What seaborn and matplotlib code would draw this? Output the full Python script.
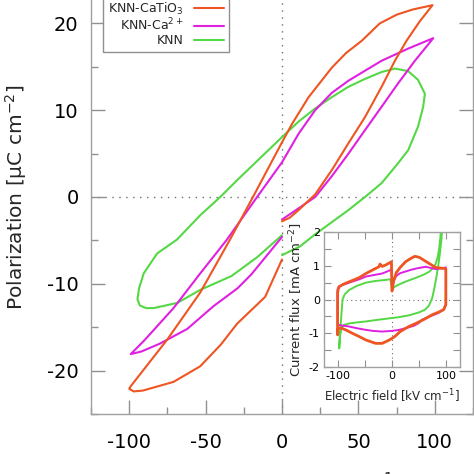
import matplotlib
matplotlib.use("Agg")
import numpy as np
import pandas as pd
import seaborn as sns
import matplotlib.pyplot as plt
from matplotlib.lines import Line2D
from matplotlib.ticker import MultipleLocator

# main P-E loops (kV/cm, uC/cm2)
samples = ["KNN-CaTiO$_3$", "KNN-Ca$^{2+}$", "KNN"]
colors = ["#ee5522", "#e020e0", "#55d845"]

cati_E = [0, 5, 10.9, 21.7, 32.6, 43.5, 54.3, 65.2, 73.9, 81.5, 90, 98.5,
          85.5, 75, 64, 52.2, 42, 32.6, 17.4, 6.5, 0, -19, -34, -53.5, -75, -99,
          -100, -97, -91, -71, -53.5, -40, -29.4, -11, 0]
cati_P = [-2.8, -2.4, -1.5, 0.3, 3.1, 6.2, 9.2, 12.7, 15.7, 18, 20.2, 22.1,
          21.6, 21, 20, 18, 16.6, 14.9, 11.5, 8.4, 6.3, 0, -4.9, -11, -16.4, -21.8,
          -22.1, -22.4, -22.3, -21.3, -19.5, -17, -14.6, -11.5, -7.2]

ca_E = [0, 10.9, 21.7, 32.6, 43.5, 54.3, 65.2, 76, 87, 99,
        82.6, 65.2, 43.5, 32.6, 21.7, 10.9, 0, -16.3, -36, -53.5, -71, -90, -99,
        -92, -80, -62, -45, -29, -20, 0]
ca_P = [-2.6, -1.3, 0, 2.4, 5.0, 7.7, 10.4, 13.1, 15.7, 18.3,
        17.1, 15.7, 13.4, 12.0, 10.0, 7.3, 4.0, 0, -4.9, -8.8, -12.8, -16.5, -18.1,
        -17.8, -16.9, -15.2, -12.6, -10.5, -8.9, -4.6]

knn_E = [0, 11.7, 21.7, 32.6, 43.5, 54.3, 65.2, 76, 82.6, 89, 92.4, 93.5,
         89, 82.6, 73.9, 65.2, 54.3, 43.5, 32.6, 21.7, 10.9, 0, -29, -40.4, -53.5, -68.7, -81.7, -90.5,
         -93.5, -94.6, -93, -89, -84, -68.5, -53.5, -33, -16, 0]
knn_P = [-6.7, -5.7, -4.3, -2.9, -1.5, 0, 1.6, 3.9, 5.4, 8.1, 10.4, 11.9,
         13.5, 14.5, 14.8, 14.4, 13.6, 12.7, 11.5, 10.2, 8.7, 6.9, 2.0, 0, -2.1, -4.9, -6.5, -8.8,
         -10.5, -11.8, -12.5, -12.8, -12.8, -12.2, -10.7, -9.1, -6.9, -4.4]

# inset: current flux (mA/cm2)
cati_Ei = [0, 3, 8, 15, 25, 35, 42, 50, 60, 70, 80, 90, 97, 99,
           99, 95, 85, 74, 60, 45, 31, 15, 5, -5, -18, -30, -48, -60, -73, -85, -93, -99, -100,
           -100, -99, -97, -90, -75, -60, -48, -35, -24, -22, -18, -12, -5, -1, 0]
cati_Ji = [0.25, 0.55, 0.8, 0.95, 1.12, 1.22, 1.28, 1.25, 1.15, 1.05, 0.95, 0.93, 0.92, 0.9,
           -0.15, -0.3, -0.38, -0.45, -0.58, -0.7, -0.8, -0.95, -1.1, -1.2, -1.3, -1.3, -1.2, -1.1, -1.0, -0.9, -0.85, -0.85, -1.05,
           0.2, 0.3, 0.38, 0.45, 0.55, 0.65, 0.77, 0.88, 0.97, 1.05, 0.98, 1.02, 1.08, 1.12, 0.28]

ca_Ei = [0, 3, 8, 15, 25, 35, 45, 55, 62, 70, 80, 90, 99,
         99, 95, 85, 70, 55, 49, 40, 25, 13, 0, -18, -35, -48, -65, -79, -92, -100,
         -100, -98, -91, -75, -60, -48, -35, -18, -3, -1, 0]
ca_Ji = [0.3, 0.55, 0.7, 0.78, 0.83, 0.88, 0.92, 0.95, 0.97, 0.94, 0.9, 0.92, 0.95,
         -0.15, -0.3, -0.4, -0.5, -0.6, -0.7, -0.78, -0.85, -0.9, -0.93, -0.95, -0.93, -0.9, -0.85, -0.8, -0.77, -0.75,
         0.3, 0.38, 0.43, 0.52, 0.6, 0.68, 0.72, 0.77, 0.87, 0.9, 0.3]

knn_Ei = [0, 5, 15, 25, 40, 50, 60, 68, 75, 80, 84, 87, 89, 90.5,
          93, 91, 88, 85, 82, 78, 74, 68, 61, 50, 31, 10, -6, -30, -48, -65, -79, -88, -93, -96, -97,
          -95, -93, -91, -87, -79, -65, -48, -30, -12, -3, 0]
knn_Ji = [0.3, 0.38, 0.46, 0.53, 0.62, 0.68, 0.75, 0.82, 0.92, 1.05, 1.25, 1.55, 1.85, 2.3,
          2.3, 1.8, 1.35, 1.0, 0.7, 0.35, 0.05, -0.18, -0.3, -0.38, -0.47, -0.53, -0.56, -0.61, -0.65, -0.68, -0.71, -0.75, -0.85, -1.1, -1.45,
          -0.9, -0.45, 0.0, 0.15, 0.28, 0.4, 0.5, 0.55, 0.58, 0.6, 0.3]


def frame(E, y, name):
    return pd.DataFrame({"E": E, "y": y, "sample": name})


main = pd.concat([frame(cati_E, cati_P, samples[0]),
                  frame(ca_E, ca_P, samples[1]),
                  frame(knn_E, knn_P, samples[2])], ignore_index=True)
inset = pd.concat([frame(cati_Ei, cati_Ji, samples[0]),
                   frame(ca_Ei, ca_Ji, samples[1]),
                   frame(knn_Ei, knn_Ji, samples[2])], ignore_index=True)

sns.set_style("ticks")
plt.rcParams["font.family"] = ["DejaVu Sans"]
plt.rcParams["axes.unicode_minus"] = False

fig = plt.figure(figsize=(4.74, 4.74), dpi=100)
ax = fig.add_axes([91/474, 60/474, 382/474, 434/474])

draw_order = [samples[2], samples[1], samples[0]]
sns.lineplot(data=main, x="E", y="y", hue="sample", hue_order=draw_order,
             palette=dict(zip(samples, colors)), sort=False, estimator=None,
             lw=1.5, legend=False, ax=ax)

ax.axhline(0, color="#707070", ls=(0, (1, 4)), lw=1, zorder=0)
ax.axvline(0, color="#707070", ls=(0, (1, 4)), lw=1, zorder=0)
ax.set_xlim(-125, 125)
ax.set_ylim(-25, 25)
ax.set_xticks([-100, -50, 0, 50, 100])
ax.set_yticks([-20, -10, 0, 10, 20])
ax.xaxis.set_minor_locator(MultipleLocator(25))
ax.yaxis.set_minor_locator(MultipleLocator(5))
ax.tick_params(which="both", direction="in", top=True, right=True,
               colors="#909090", labelcolor="black", labelsize=14)
ax.tick_params(which="major", length=10, width=1)
ax.tick_params(which="minor", length=5, width=1)
ax.tick_params(axis="x", pad=14)
ax.tick_params(axis="y", pad=9)
for s in ax.spines.values():
    s.set_color("#a0a0a0")
    s.set_linewidth(1)

ax.set_ylabel("Polarization [μC cm$^{-2}$]", fontsize=14.5)
ax.yaxis.set_label_coords(-0.162, 0.5)
ax.set_xlabel("Electric field [kV cm$^{-1}$]", fontsize=15)
ax.xaxis.set_label_coords(0.5, -0.132)

handles = [Line2D([], [], color=c, lw=1.5) for c in colors]
ax.legend(handles, samples, loc="lower left", bbox_to_anchor=(103/474, 1 - 52/474),
          bbox_transform=fig.transFigure, markerfirst=False, fontsize=9,
          fancybox=False, edgecolor="#909090", framealpha=1, handlelength=2.4,
          borderaxespad=0, labelspacing=0.02, borderpad=0.4)

# inset with current loops
axin = fig.add_axes([324/474, 107/474, 136/474, 135/474])
axin.set_facecolor("white")
sns.lineplot(data=inset, x="E", y="y", hue="sample", hue_order=draw_order,
             palette=dict(zip(samples, colors)), sort=False, estimator=None,
             lw=1.4, legend=False, ax=axin)
axin.lines[-1].set_linewidth(2)
axin.axhline(0, color="#707070", ls=(0, (1, 3)), lw=0.8, zorder=0)
axin.axvline(0, color="#707070", ls=(0, (1, 3)), lw=0.8, zorder=0)
axin.set_xlim(-125, 125)
axin.set_ylim(-2, 2)
axin.set_xticks([-100, -50, 0, 50, 100], labels=["-100", "", "0", "", "100"])
axin.set_yticks(np.arange(-2, 2.01, 0.5), labels=["-2", "", "-1", "", "0", "", "1", "", "2"])
axin.tick_params(which="both", direction="in", top=True, right=True, length=5,
                 colors="#909090", labelcolor="black", labelsize=8, pad=3)
for s in axin.spines.values():
    s.set_color("#a0a0a0")
    s.set_linewidth(1)
axin.set_xlabel("Electric field [kV cm$^{-1}$]", fontsize=8.5)
axin.xaxis.set_label_coords(0.5, -0.155)
axin.set_ylabel("Current flux [mA cm$^{-2}$]", fontsize=9.5)
axin.yaxis.set_label_coords(-0.14, 0.5)

fig.savefig("out.png", dpi=100)
